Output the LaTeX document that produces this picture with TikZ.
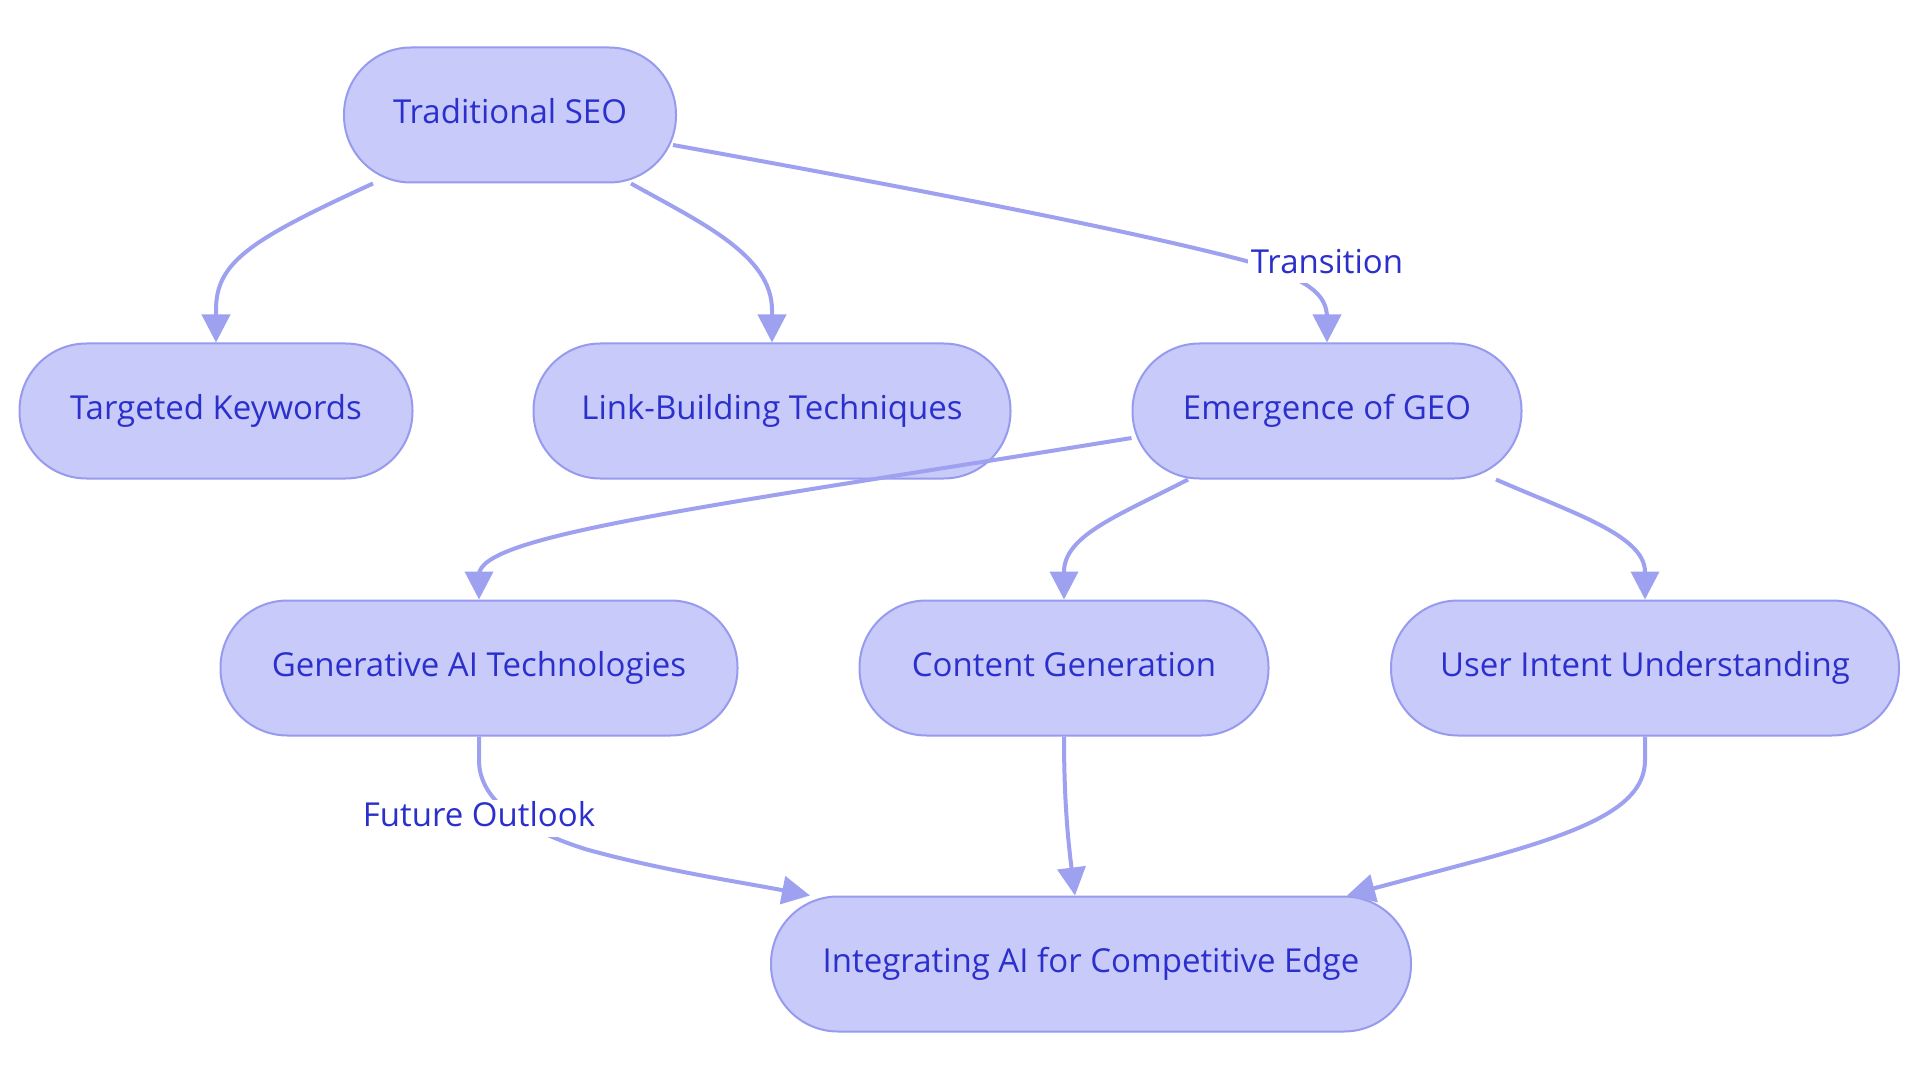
\documentclass[tikz,border=0pt]{standalone}
\usepackage{fontspec}
\setmainfont{Open Sans}
\usetikzlibrary{arrows.meta}
\definecolor{nfill}{RGB}{200,202,250}
\definecolor{nstroke}{RGB}{150,155,238}
\definecolor{ntext}{RGB}{43,48,204}
\definecolor{eline}{RGB}{157,161,240}
\begin{document}
\begin{tikzpicture}[x=1pt,y=-1pt,
  box/.style={draw=nstroke, line width=2pt, fill=nfill, rounded corners=67pt,
    minimum height=135pt, inner sep=0pt, text=ntext, text height=24pt, text depth=7pt,
    font=\fontsize{33}{39}\selectfont},
  conn/.style={draw=eline, line width=4pt, -{Triangle[length=28pt,width=28pt]}},
  lbl/.style={fill=white, text=ntext, inner sep=3pt, text height=24pt, text depth=7pt,
    font=\fontsize{33}{39}\selectfont}]
\fill[white] (0,0) rectangle (1920,1083);
\useasboundingbox (0,0) rectangle (1920,1083);

\node[box, minimum width=332pt] (tseo) at (510,115) {Traditional SEO};
\node[box, minimum width=393pt] (tk) at (216,411) {Targeted Keywords};
\node[box, minimum width=477pt] (lb) at (772,411) {Link-Building Techniques};
\node[box, minimum width=389pt] (geo) at (1327,411) {Emergence of GEO};
\node[box, minimum width=517pt] (gen) at (479,668) {Generative AI Technologies};
\node[box, minimum width=409pt] (cg) at (1064,668) {Content Generation};
\node[box, minimum width=508pt] (ui) at (1645,668) {User Intent Understanding};
\node[box, minimum width=640pt] (int) at (1091,964) {Integrating AI for Competitive Edge};

% Traditional SEO -> Targeted Keywords
\draw[conn] ([xshift=-137pt]tseo.south) .. controls (250,240) and (216,262) .. (216,310) -- (tk.north);
% Traditional SEO -> Link-Building
\draw[conn] ([xshift=121pt]tseo.south) .. controls (700,222) and (772,255) .. (772,310) -- (lb.north);
% Traditional SEO -> Emergence of GEO
\draw[conn] ([yshift=-30pt,xshift=-4pt]tseo.east) .. controls (950,195) and (1150,235) .. (1250,262)
   .. controls (1310,280) and (1327,295) .. (1327,318) -- (geo.north);
\node[lbl] (ltrans) at (1327,265) {Transition};
% Emergence of GEO -> Generative AI
\draw[conn] ([yshift=-27pt]geo.west) .. controls (700,508) and (479,535) .. (479,575) -- (gen.north);
% Emergence of GEO -> Content Generation
\draw[conn] ([xshift=-139pt]geo.south) .. controls (1120,515) and (1064,535) .. (1064,572) -- (cg.north);
% Emergence of GEO -> User Intent
\draw[conn] ([xshift=169pt]geo.south) .. controls (1570,512) and (1645,535) .. (1645,572) -- (ui.north);
% Generative AI -> Integrating
\draw[conn] (gen.south) -- (479,760) .. controls (479,800) and (520,828) .. (585,849)
   .. controls (660,870) and (740,882) .. ([xshift=40pt]int.north west);
\node[lbl] (lfut) at (479,818) {Future Outlook};
% Content Generation -> Integrating
\draw[conn] (cg.south) .. controls (1064,800) and (1068,840) .. ([xshift=-16pt]int.north);
% User Intent -> Integrating
\draw[conn] (ui.south) -- (1645,760) .. controls (1645,805) and (1590,830) .. (1480,860)
   -- ([xshift=256pt]int.north);
\end{tikzpicture}
\end{document}
